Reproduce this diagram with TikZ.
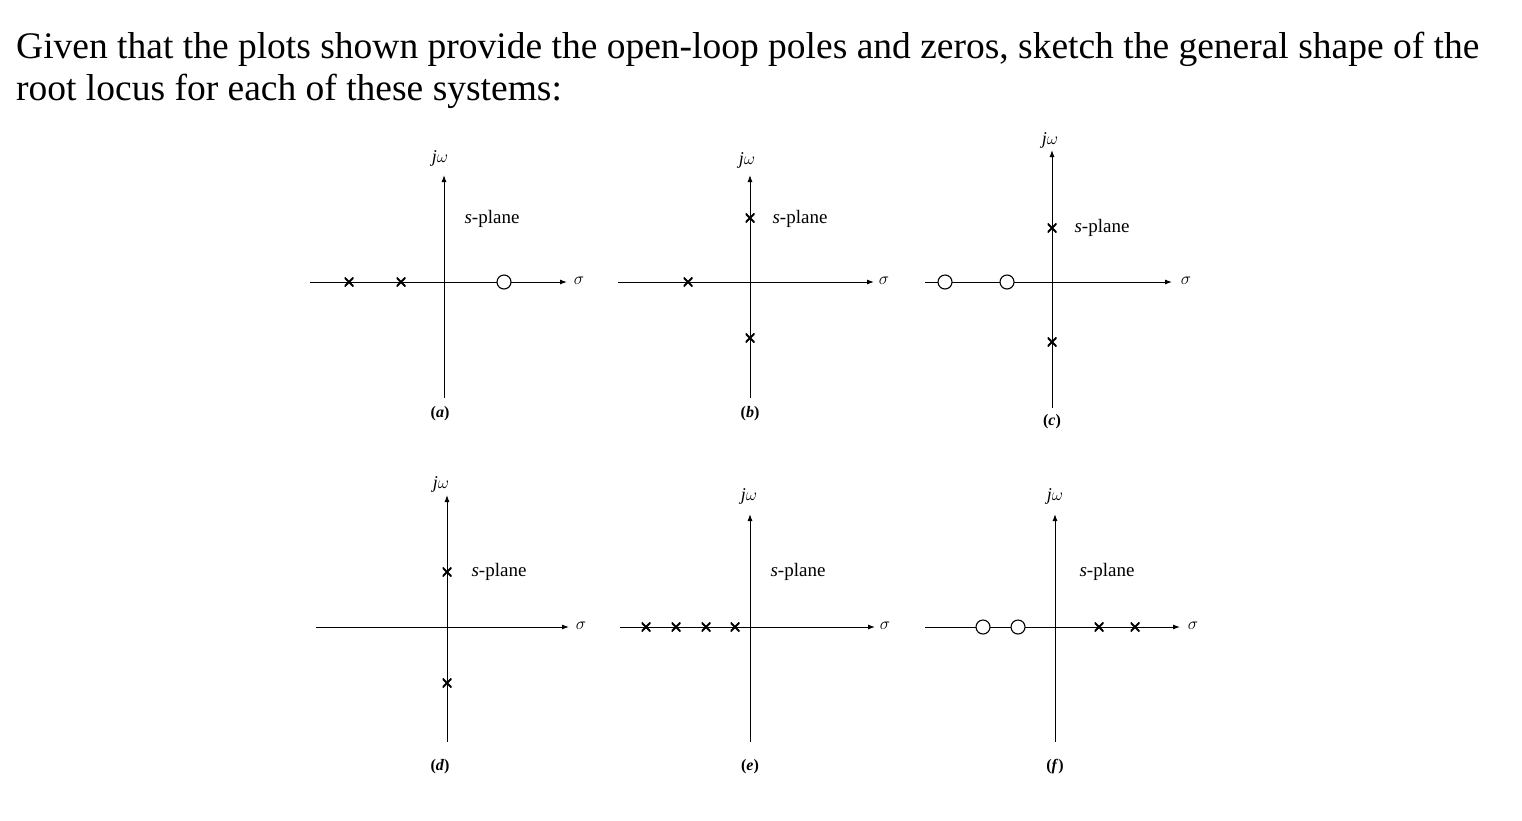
\documentclass[tikz,border=0pt]{standalone}
\usepackage{fontspec}
\setmainfont{Liberation Serif}
\usetikzlibrary{arrows.meta}
\begin{document}
\begin{tikzpicture}[x=1pt,y=-1pt,
  ax/.style={line width=1pt,-{Latex[length=7pt,width=5pt]}},
  lbl/.style={font=\fontsize{18}{20}\selectfont\itshape},
  plab/.style={font=\fontsize{16}{18}\selectfont\bfseries},
  zero/.style={circle,draw,line width=1.1pt,fill=white,minimum size=14pt,inner sep=0pt},
  pole/.style={inner sep=0pt,minimum size=9pt,path picture={\draw[line width=2pt]
    (path picture bounding box.south west)--(path picture bounding box.north east)
    (path picture bounding box.north west)--(path picture bounding box.south east);}}]
\useasboundingbox (0,0) rectangle (1522,820);
\node[anchor=base west,font=\fontsize{37.5}{40}\selectfont,inner sep=0pt] (t1) at (16,58) {Given that the plots shown provide the open-loop poles and zeros, sketch the general shape of the};
\node[anchor=base west,font=\fontsize{37.5}{40}\selectfont,inner sep=0pt] (t2) at (16,100) {root locus for each of these systems:};
% (a)
\coordinate (ah0) at (310,282); \coordinate (ah1) at (567,282);
\coordinate (av0) at (444,398); \coordinate (av1) at (444,175);
\draw[ax] (ah0)--(ah1); \draw[ax] (av0)--(av1);
\node[lbl] (as) at (579,281) {$\sigma$};
\node[lbl] (aj) at (440,158) {j$\omega$};
\node[lbl,font=\fontsize{19}{21}\selectfont] (ap) at (492,219) {\textit{s}\upshape-plane};
\node[pole] (ap1) at (349,282) {}; \node[pole] (ap2) at (401,282) {};
\node[zero] (az1) at (504,282) {};
\node[plab] (ac) at (440,414) {(\textit{a})};
% (b)
\coordinate (bh0) at (618,282); \coordinate (bh1) at (874,282);
\coordinate (bv0) at (750,398); \coordinate (bv1) at (750,175);
\draw[ax] (bh0)--(bh1); \draw[ax] (bv0)--(bv1);
\node[lbl] (bs) at (884,281) {$\sigma$};
\node[lbl] (bj) at (747,160) {j$\omega$};
\node[lbl,font=\fontsize{19}{21}\selectfont] (bp) at (800,219) {\textit{s}\upshape-plane};
\node[pole] (bp1) at (688,282) {}; \node[pole] (bp2) at (750,218) {}; \node[pole] (bp3) at (750,338) {};
\node[plab] (bc) at (750,414) {(\textit{b})};
% (c)
\coordinate (ch0) at (925,282); \coordinate (ch1) at (1172,282);
\coordinate (cv0) at (1052,408); \coordinate (cv1) at (1052,150);
\draw[ax] (ch0)--(ch1); \draw[ax] (cv0)--(cv1);
\node[lbl] (cs) at (1186,281) {$\sigma$};
\node[lbl] (cj) at (1050,140) {j$\omega$};
\node[lbl,font=\fontsize{19}{21}\selectfont] (cp) at (1102,228) {\textit{s}\upshape-plane};
\node[pole] (cp1) at (1052,228) {}; \node[pole] (cp2) at (1052,342) {};
\node[zero] (cz1) at (945,282) {}; \node[zero] (cz2) at (1007,282) {};
\node[plab] (cc) at (1052,422) {(\textit{c})};
% (d)
\coordinate (dh0) at (316,627); \coordinate (dh1) at (569,627);
\coordinate (dv0) at (447,742); \coordinate (dv1) at (447,495);
\draw[ax] (dh0)--(dh1); \draw[ax] (dv0)--(dv1);
\node[lbl] (ds) at (581,626) {$\sigma$};
\node[lbl] (dj) at (441,484) {j$\omega$};
\node[lbl,font=\fontsize{19}{21}\selectfont] (dp) at (499,572) {\textit{s}\upshape-plane};
\node[pole] (dp1) at (447,572) {}; \node[pole] (dp2) at (447,683) {};
\node[plab] (dc) at (440,767) {(\textit{d})};
% (e)
\coordinate (eh0) at (620,627); \coordinate (eh1) at (875,627);
\coordinate (ev0) at (750,742); \coordinate (ev1) at (750,514);
\draw[ax] (eh0)--(eh1); \draw[ax] (ev0)--(ev1);
\node[lbl] (es) at (885,626) {$\sigma$};
\node[lbl] (ej) at (749,496) {j$\omega$};
\node[lbl,font=\fontsize{19}{21}\selectfont] (ep) at (798,572) {\textit{s}\upshape-plane};
\node[pole] (ep1) at (646,627) {}; \node[pole] (ep2) at (676,627) {};
\node[pole] (ep3) at (706,627) {}; \node[pole] (ep4) at (735,627) {};
\node[plab] (ec) at (750,767) {(\textit{e})};
% (f)
\coordinate (fh0) at (925,627); \coordinate (fh1) at (1180,627);
\coordinate (fv0) at (1055,742); \coordinate (fv1) at (1055,514);
\draw[ax] (fh0)--(fh1); \draw[ax] (fv0)--(fv1);
\node[lbl] (fs) at (1193,626) {$\sigma$};
\node[lbl] (fj) at (1055,496) {j$\omega$};
\node[lbl,font=\fontsize{19}{21}\selectfont] (fp) at (1107,572) {\textit{s}\upshape-plane};
\node[zero] (fz1) at (983,627) {}; \node[zero] (fz2) at (1018,627) {};
\node[pole] (fp1) at (1099,627) {}; \node[pole] (fp2) at (1135,627) {};
\node[plab] (fc) at (1055,767) {(\textit{f})};
\end{tikzpicture}
\end{document}
